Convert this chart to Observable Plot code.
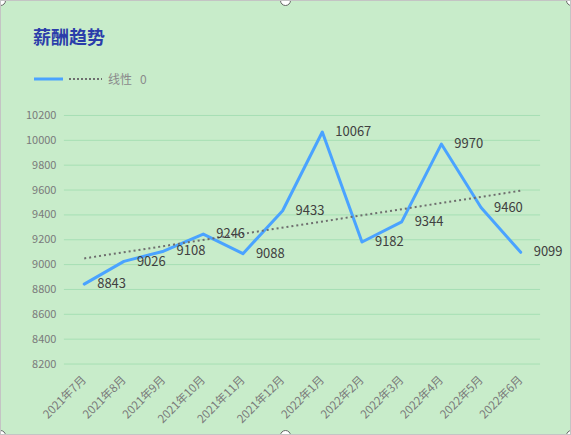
<!DOCTYPE html>
<html><head><meta charset="utf-8">
<script src="https://cdn.jsdelivr.net/npm/d3@7"></script>
<script src="https://cdn.jsdelivr.net/npm/@observablehq/plot@0.6"></script>
<style>
body{margin:0;padding:0;background:#fff;}
#wrap{position:relative;width:571px;height:435px;background:#c8ecca;overflow:hidden;font-family:"Noto Sans CJK SC","Noto Sans",sans-serif;box-sizing:border-box;border:1px solid #c4c4c4;}
#title{position:absolute;left:32px;top:22px;font-size:18px;font-weight:bold;color:#2a3daa;}
#legend{position:absolute;left:33px;top:68px;height:20px;}
#chart{position:absolute;left:-1px;top:99px;}
.h{position:absolute;width:11px;height:11px;border-radius:50%;background:#fff;border:1px solid #666;box-sizing:border-box;}
</style></head>
<body>
<div id="wrap">
<div id="title">薪酬趋势</div>
<svg id="legend" width="140" height="20">
<line x1="0" x2="29" y1="10" y2="10" stroke="#4aa3ff" stroke-width="3"/>
<line x1="35" x2="68" y1="10" y2="10" stroke="#6e6e6e" stroke-width="2" stroke-dasharray="2,2"/>
<text x="74" y="14.5" font-size="12" fill="#8a8a8a" font-family="Noto Sans CJK SC">线性</text>
<text x="106" y="14.5" font-size="12" fill="#8a8a8a" font-family="Noto Sans CJK SC">0</text>
</svg>
<div id="chart"></div>
<div class="h" style="left:-6px;top:-6px"></div>
<div class="h" style="left:279px;top:-6px"></div>
<div class="h" style="left:565px;top:-6px"></div>
<div class="h" style="left:-6px;top:429px"></div>
<div class="h" style="left:279px;top:429px"></div>
<div class="h" style="left:565px;top:429px"></div>
</div>
<script>
const months = ["2021年7月","2021年8月","2021年9月","2021年10月","2021年11月","2021年12月","2022年1月","2022年2月","2022年3月","2022年4月","2022年5月","2022年6月"];
const salary = [8843,9026,9108,9246,9088,9433,10067,9182,9344,9970,9460,9099];
const yTicks = [8200,8400,8600,8800,9000,9200,9400,9600,9800,10000,10200];

const data = months.map((m,i)=>({i, m, v: salary[i]}));

const chart = Plot.plot({
  width: 571,
  height: 336,
  marginLeft: 64,
  marginRight: 30,
  marginTop: 15,
  marginBottom: 72,
  style: {background: "transparent", fontFamily: "'Noto Sans CJK SC', sans-serif"},
  x: {domain: [-0.5, 11.5], label: null},
  y: {domain: [8200, 10200], label: null},
  marks: [
    Plot.gridY(yTicks, {stroke: "#a6dfb4", strokeOpacity: 1, strokeWidth: 1}),
    Plot.axisY({ticks: yTicks, tickFormat: d => String(d), tickSize: 0, tickPadding: 8, fill: "#7a7a7a", fontSize: 11, label: null}),
    Plot.axisX({ticks: d3.range(12), tickFormat: i => months[i], tickRotate: -45, tickSize: 0, tickPadding: 14, fill: "#7a7a7a", fontSize: 11.5, label: null}),
    Plot.lineY(data, {x: "i", y: "v", stroke: "#4aa3ff", strokeWidth: 3}),
    Plot.linearRegressionY(data, {x: "i", y: "v", stroke: "#6e6e6e", strokeWidth: 2, strokeDasharray: "2,3", strokeLinecap: "butt", ci: 0}),
    Plot.text(data, {x: "i", y: "v", text: d => String(d.v), dx: 13, dy: 0, textAnchor: "start", fill: "#404040", fontSize: 13})
  ]
});
document.getElementById("chart").appendChild(chart);
</script>
</body></html>
